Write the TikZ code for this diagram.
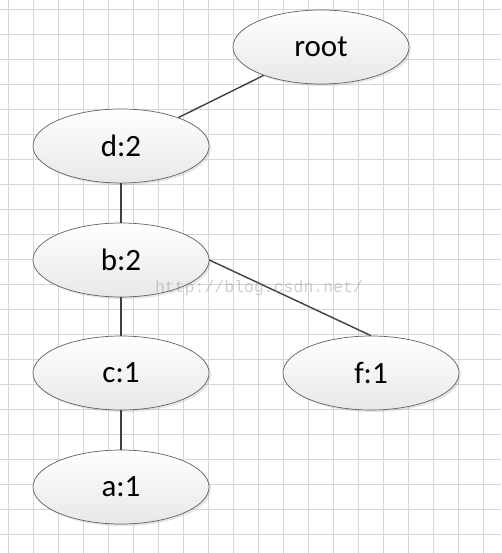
\documentclass[tikz,border=0pt]{standalone}
\usepackage{fontspec}
\setmainfont{Carlito}
\newfontfamily\markfont{Liberation Mono}
\usetikzlibrary{positioning, shapes, shadows}
\tikzset{node distance=114pt, on grid,
    tree/.style={ellipse, draw=black!62, line width=0.7pt, minimum width=176pt, minimum height=74pt,
        top color=white, bottom color=black!9, font=\fontsize{31}{34}\selectfont,
        drop shadow={shadow xshift=2pt, shadow yshift=-2pt, opacity=0.25, fill=black!40}},
    link/.style={draw=black!75, line width=1.4pt},
    gridline/.style={draw=black!16, line width=0.8pt}}

\begin{document}
\begin{tikzpicture}[x=1pt, y=-1pt]
        \useasboundingbox[fill=white] (0,0) rectangle (501,553);
        \foreach \x in {8,33,...,500} \draw[gridline] (\x,0) -- (\x,553);
        \foreach \y in {9,34,...,553} \draw[gridline] (0,\y) -- (501,\y);
        \node[tree] at (321,47) (root) {root};
        \node[tree, below left=99pt and 200pt of root] (d) {d:2};
        \node[tree, below=of d] (b) {b:2};
        \node[tree, below=113pt of b] (c) {c:1};
        \node[tree, right=250pt of c] (f) {f:1};
        \node[tree, below=of c] (a) {a:1};
        \draw[link] (root) -- (d);
        \draw[link] (d) -- (b);
        \draw[link] (b) -- (c);
        \draw[link] (b.east) -- (f.north);
        \draw[link] (c) -- (a);
        \node[text=black!45, opacity=0.4, font=\markfont\fontsize{16.5}{18}\selectfont] at (259,288) (mark) {http://blog.csdn.net/};
    \end{tikzpicture}
\end{document}
